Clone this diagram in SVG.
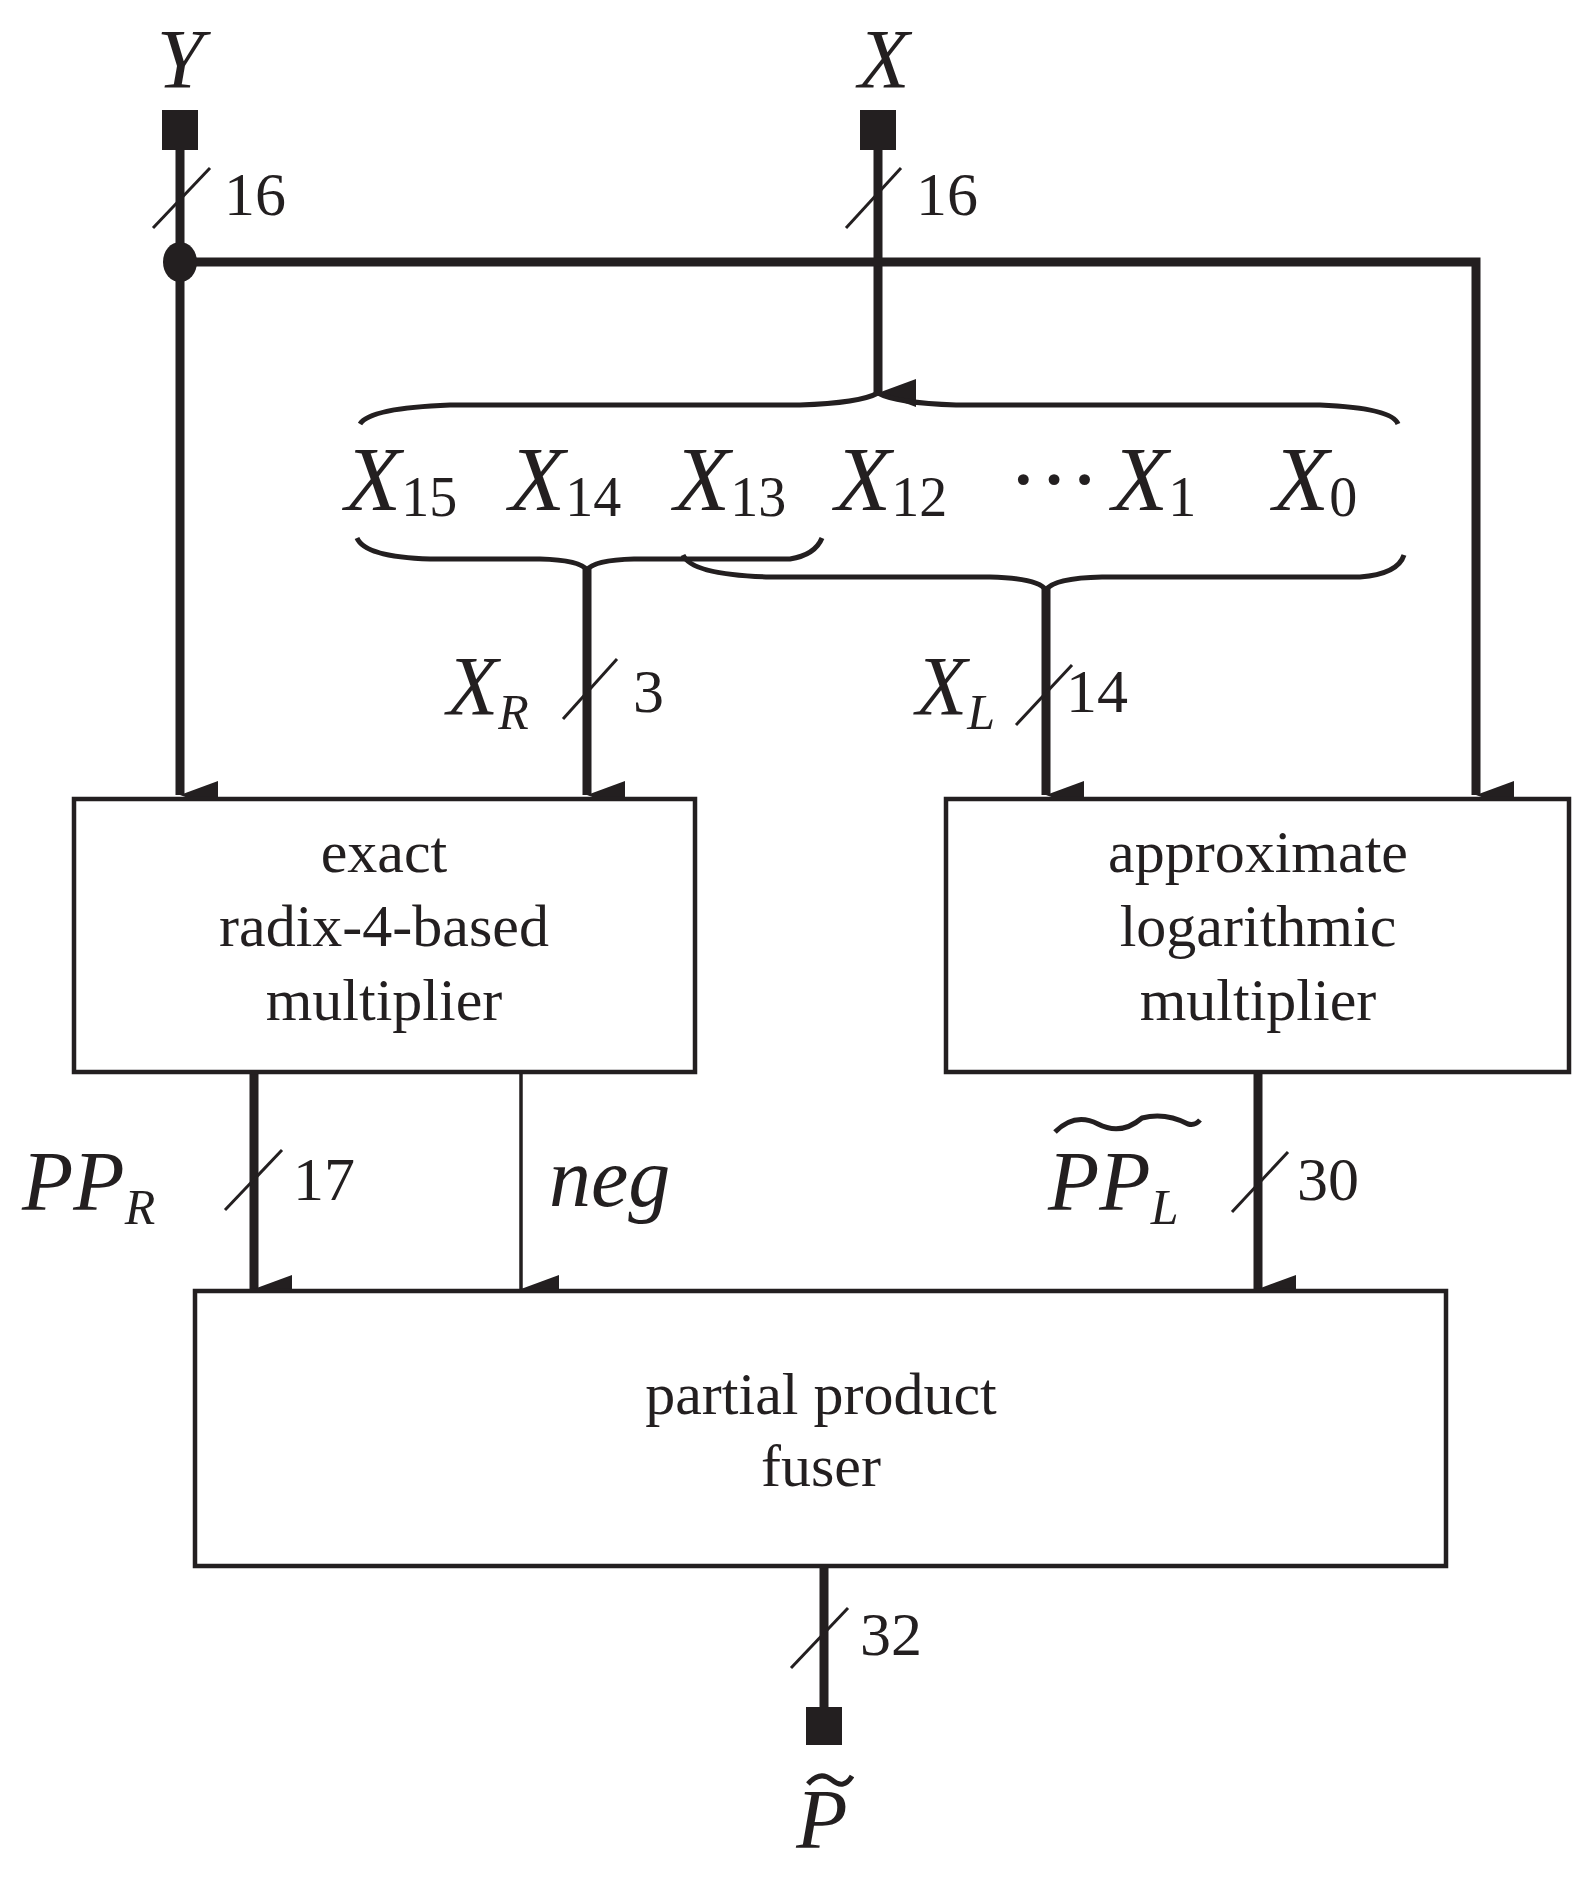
<svg xmlns="http://www.w3.org/2000/svg" width="1593" height="1881" viewBox="0 0 1593 1881">
<style>
.t{font-family:"Liberation Serif",serif;fill:#231f20}
.i{font-style:italic}
.box{fill:#fff;stroke:#231f20;stroke-width:4.5}
.w{fill:none;stroke:#231f20;stroke-width:9}
.n{fill:none;stroke:#231f20;stroke-width:3.5}
.tk{stroke:#231f20;stroke-width:3}
.br{fill:none;stroke:#231f20;stroke-width:5}
</style>
<defs>
<marker id="a" markerUnits="userSpaceOnUse" markerWidth="28" markerHeight="40" refX="14" refY="38" orient="auto-start-reverse" viewBox="0 0 28 40"><path d="M0,0 L14,38 L28,0 Z" fill="#231f20"/></marker>
</defs>
<rect width="1593" height="1881" fill="#fff"/>
<g id="connectors">
<rect x="162" y="110" width="36" height="40" fill="#231f20"/>
<rect x="860" y="110" width="36" height="40" fill="#231f20"/>
<path class="w" d="M180,150 V795" marker-end="url(#a)"/>
<path class="w" d="M878,150 V393" marker-end="url(#a)"/>
<path class="w" d="M180,262 H1476 V795" marker-end="url(#a)"/>
<ellipse cx="180" cy="262" rx="17" ry="20" fill="#231f20"/>
<path class="br" d="M360,424 Q370,408 450,405 L800,405 Q860,403 878,393 Q896,403 956,405 L1320,405 Q1392,408 1398,424"/>
<path class="br" d="M357,538 Q365,557 430,559 L540,559 Q580,560 587,570 Q594,560 634,559 L790,559 Q815,555 822,538"/>
<path class="br" d="M683,555 Q692,575 770,577 L990,577 Q1038,578 1046,590 Q1054,578 1102,577 L1360,577 Q1398,574 1404,555"/>
<path class="w" d="M587,568 V795" marker-end="url(#a)"/>
<path class="w" d="M1046,588 V795" marker-end="url(#a)"/>
<path class="w" d="M254,1072 V1289" marker-end="url(#a)"/>
<path class="n" d="M521,1072 V1289" marker-end="url(#a)"/>
<path class="w" d="M1258,1072 V1289" marker-end="url(#a)"/>
<path class="w" d="M824,1566 V1710"/>
<rect x="806" y="1707" width="36" height="38" fill="#231f20"/>
<line class="tk" x1="153" y1="228" x2="210" y2="168"/>
<line class="tk" x1="846" y1="228" x2="901" y2="168"/>
<line class="tk" x1="563" y1="719" x2="617" y2="659"/>
<line class="tk" x1="1016" y1="725" x2="1072" y2="665"/>
<line class="tk" x1="225" y1="1210" x2="282" y2="1150"/>
<line class="tk" x1="1232" y1="1212" x2="1288" y2="1152"/>
<line class="tk" x1="791" y1="1668" x2="848" y2="1608"/>
</g>
<g id="labels" class="t">
<text class="t i" x="180" y="88" font-size="84" text-anchor="middle">Y</text>
<text class="t i" x="884" y="88" font-size="84" text-anchor="middle">X</text>
<text class="t" x="224" y="215" font-size="62">16</text>
<text class="t" x="916" y="215" font-size="62">16</text>
<text class="t" y="510" font-size="92"><tspan class="i" x="345">X</tspan><tspan font-size="56" dy="6">15</tspan><tspan class="i" x="509" dy="-6">X</tspan><tspan font-size="56" dy="6">14</tspan><tspan class="i" x="674" dy="-6">X</tspan><tspan font-size="56" dy="6">13</tspan><tspan class="i" x="835" dy="-6">X</tspan><tspan font-size="56" dy="6">12</tspan><tspan x="1008" dy="-6">···</tspan><tspan class="i" x="1112">X</tspan><tspan font-size="56" dy="6">1</tspan><tspan class="i" x="1273" dy="-6">X</tspan><tspan font-size="56" dy="6">0</tspan></text>
<text class="t" x="447" y="715" font-size="84"><tspan class="i">X</tspan><tspan class="i" font-size="50" dy="14">R</tspan></text>
<text class="t" x="633" y="712" font-size="62">3</text>
<text class="t" x="916" y="715" font-size="84"><tspan class="i">X</tspan><tspan class="i" font-size="50" dy="14">L</tspan></text>
<text class="t" x="1066" y="712" font-size="62">14</text>
<text class="t" x="22" y="1210" font-size="84"><tspan class="i">PP</tspan><tspan class="i" font-size="50" dy="14">R</tspan></text>
<text class="t" x="293" y="1200" font-size="62">17</text>
<text class="t i" x="549" y="1206" font-size="84">neg</text>
<text class="t" x="1048" y="1210" font-size="84"><tspan class="i">PP</tspan><tspan class="i" font-size="50" dy="14">L</tspan></text>
<path d="M1055,1132 Q1075,1112 1098,1124 T1142,1118 Q1165,1112 1188,1124 Q1195,1126 1200,1120" class="br" stroke-width="4"/>
<text class="t" x="1297" y="1200" font-size="62">30</text>
<text class="t" x="860" y="1655" font-size="62">32</text>
<text class="t i" x="822" y="1848" font-size="84" text-anchor="middle">P</text>
<path d="M808,1784 Q820,1770 832,1780 T852,1776" class="br" stroke-width="4"/>
</g>
<g id="exact">
<rect class="box" x="74" y="799" width="621" height="273"/>
<text class="t" x="384" y="872" font-size="60" text-anchor="middle">exact</text>
<text class="t" x="384" y="946" font-size="60" text-anchor="middle">radix-4-based</text>
<text class="t" x="384" y="1020" font-size="60" text-anchor="middle">multiplier</text>
</g>
<g id="approx">
<rect class="box" x="946" y="799" width="623" height="273"/>
<text class="t" x="1258" y="872" font-size="60" text-anchor="middle">approximate</text>
<text class="t" x="1258" y="946" font-size="60" text-anchor="middle">logarithmic</text>
<text class="t" x="1258" y="1020" font-size="60" text-anchor="middle">multiplier</text>
</g>
<g id="fuser">
<rect class="box" x="195" y="1291" width="1251" height="275"/>
<text class="t" x="821" y="1414" font-size="60" text-anchor="middle">partial product</text>
<text class="t" x="821" y="1486" font-size="60" text-anchor="middle">fuser</text>
</g>
</svg>
